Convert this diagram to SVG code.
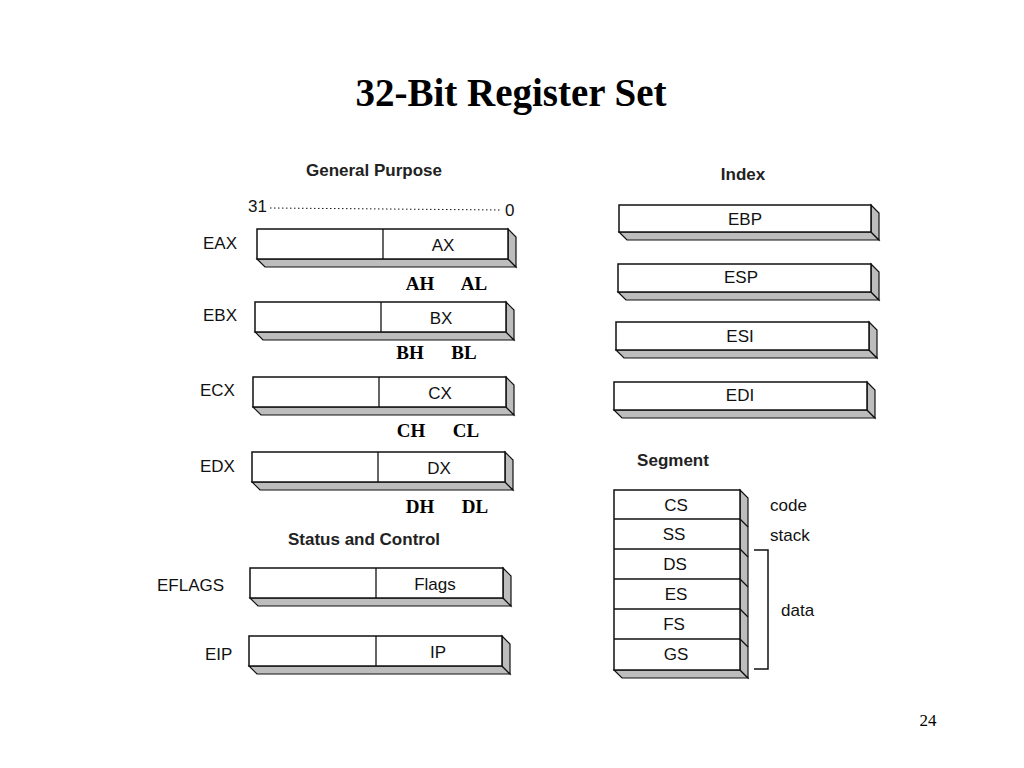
<svg xmlns="http://www.w3.org/2000/svg" width="1024" height="768" viewBox="0 0 1024 768">
<style>
.f{fill:#fff;stroke:#111;stroke-width:1.5}
.s{fill:#bdbdbd;stroke:#111;stroke-width:1.2}
.l{stroke:#111;stroke-width:1.3}
.t{font-family:"Liberation Sans",Arial,sans-serif;font-size:17px;fill:#111}
.hd{font-family:"Liberation Sans",Arial,sans-serif;font-size:17px;font-weight:bold;fill:#222}
.b{font-family:"Liberation Serif","Times New Roman",serif;font-size:19px;font-weight:bold;fill:#000}
</style>
<rect width="1024" height="768" fill="#fff"/>
<text x="511" y="106" text-anchor="middle" font-family="Liberation Serif,serif" font-size="39" font-weight="bold">32-Bit Register Set</text>
<text x="374" y="176" class="hd" text-anchor="middle">General Purpose</text>
<text x="248" y="212" class="t" font-size="13">31</text>
<line x1="270" y1="208" x2="502" y2="210" stroke="#111" stroke-dasharray="1.5,2.5"/>
<text x="505" y="216" class="t" font-size="13">0</text>
<g id="eax"><path class="s" d="M257 259 L508 259 L516 267 L265 267 Z"/><path class="s" d="M508 229 L516 237 L516 267 L508 259 Z"/><rect class="f" x="257" y="229" width="251" height="30"/><line class="l" x1="383" y1="229" x2="383" y2="259"/><text class="t" x="203" y="249">EAX</text><text class="t" x="443" y="251" text-anchor="middle">AX</text><text class="b" x="420" y="290" text-anchor="middle">AH</text><text class="b" x="474" y="290" text-anchor="middle">AL</text></g>
<g id="ebx"><path class="s" d="M255 332 L506 332 L514 340 L263 340 Z"/><path class="s" d="M506 302 L514 310 L514 340 L506 332 Z"/><rect class="f" x="255" y="302" width="251" height="30"/><line class="l" x1="381" y1="302" x2="381" y2="332"/><text class="t" x="203" y="321">EBX</text><text class="t" x="441" y="324" text-anchor="middle">BX</text><text class="b" x="410" y="359" text-anchor="middle">BH</text><text class="b" x="464" y="359" text-anchor="middle">BL</text></g>
<g id="ecx"><path class="s" d="M253 407 L506 407 L514 415 L261 415 Z"/><path class="s" d="M506 377 L514 385 L514 415 L506 407 Z"/><rect class="f" x="253" y="377" width="253" height="30"/><line class="l" x1="379" y1="377" x2="379" y2="407"/><text class="t" x="200" y="396">ECX</text><text class="t" x="440" y="399" text-anchor="middle">CX</text><text class="b" x="411" y="437" text-anchor="middle">CH</text><text class="b" x="466" y="437" text-anchor="middle">CL</text></g>
<g id="edx"><path class="s" d="M252 482 L505 482 L513 490 L260 490 Z"/><path class="s" d="M505 452 L513 460 L513 490 L505 482 Z"/><rect class="f" x="252" y="452" width="253" height="30"/><line class="l" x1="378" y1="452" x2="378" y2="482"/><text class="t" x="200" y="472">EDX</text><text class="t" x="439" y="474" text-anchor="middle">DX</text><text class="b" x="420" y="513" text-anchor="middle">DH</text><text class="b" x="475" y="513" text-anchor="middle">DL</text></g>
<text x="364" y="545" class="hd" text-anchor="middle">Status and Control</text>
<g id="eflags"><path class="s" d="M250 598 L503 598 L511 606 L258 606 Z"/><path class="s" d="M503 568 L511 576 L511 606 L503 598 Z"/><rect class="f" x="250" y="568" width="253" height="30"/><line class="l" x1="376" y1="568" x2="376" y2="598"/><text class="t" x="157" y="591">EFLAGS</text><text class="t" x="435" y="590" text-anchor="middle">Flags</text></g>
<g id="eip"><path class="s" d="M249 666 L502 666 L510 674 L257 674 Z"/><path class="s" d="M502 636 L510 644 L510 674 L502 666 Z"/><rect class="f" x="249" y="636" width="253" height="30"/><line class="l" x1="376" y1="636" x2="376" y2="666"/><text class="t" x="205" y="660">EIP</text><text class="t" x="438" y="658" text-anchor="middle">IP</text></g>
<text x="743" y="180" class="hd" text-anchor="middle">Index</text>
<g id="ebp"><path class="s" d="M619 232 L871 232 L879 240 L627 240 Z"/><path class="s" d="M871 205 L879 213 L879 240 L871 232 Z"/><rect class="f" x="619" y="205" width="252" height="27"/><text class="t" x="745" y="225" text-anchor="middle">EBP</text></g>
<g id="esp"><path class="s" d="M618 292 L871 292 L879 300 L626 300 Z"/><path class="s" d="M871 264 L879 272 L879 300 L871 292 Z"/><rect class="f" x="618" y="264" width="253" height="28"/><text class="t" x="741" y="283" text-anchor="middle">ESP</text></g>
<g id="esi"><path class="s" d="M616 350 L869 350 L877 358 L624 358 Z"/><path class="s" d="M869 322 L877 330 L877 358 L869 350 Z"/><rect class="f" x="616" y="322" width="253" height="28"/><text class="t" x="740" y="342" text-anchor="middle">ESI</text></g>
<g id="edi"><path class="s" d="M614 410 L867 410 L875 418 L622 418 Z"/><path class="s" d="M867 382 L875 390 L875 418 L867 410 Z"/><rect class="f" x="614" y="382" width="253" height="28"/><text class="t" x="740" y="401" text-anchor="middle">EDI</text></g>
<text x="673" y="466" class="hd" text-anchor="middle">Segment</text>
<g id="segment">
<path class="s" d="M614 670 L740 670 L748 678 L622 678 Z"/><path class="s" d="M740 490 L748 498 L748 678 L740 670 Z"/>
<rect class="f" x="614" y="490" width="126" height="180"/>
<g class="l"><line x1="614" y1="519" x2="740" y2="519"/><line x1="614" y1="549" x2="740" y2="549"/><line x1="614" y1="579" x2="740" y2="579"/><line x1="614" y1="609" x2="740" y2="609"/><line x1="614" y1="639" x2="740" y2="639"/>
<line x1="740" y1="519" x2="748" y2="527"/><line x1="740" y1="549" x2="748" y2="557"/><line x1="740" y1="579" x2="748" y2="587"/><line x1="740" y1="609" x2="748" y2="617"/><line x1="740" y1="639" x2="748" y2="647"/></g>
<g class="t" text-anchor="middle" font-size="18"><text x="676" y="511">CS</text><text x="674" y="540">SS</text><text x="675" y="570">DS</text><text x="676" y="600">ES</text><text x="674" y="630">FS</text><text x="676" y="660">GS</text></g>
<text class="t" x="770" y="511">code</text><text class="t" x="770" y="541">stack</text><text class="t" x="781" y="616">data</text>
<path d="M754 550 L768 550 L768 669 L754 669" fill="none" stroke="#111" stroke-width="1.5"/>
</g>
<text x="928" y="726" font-family="Liberation Serif,serif" font-size="17" text-anchor="middle">24</text>
</svg>
